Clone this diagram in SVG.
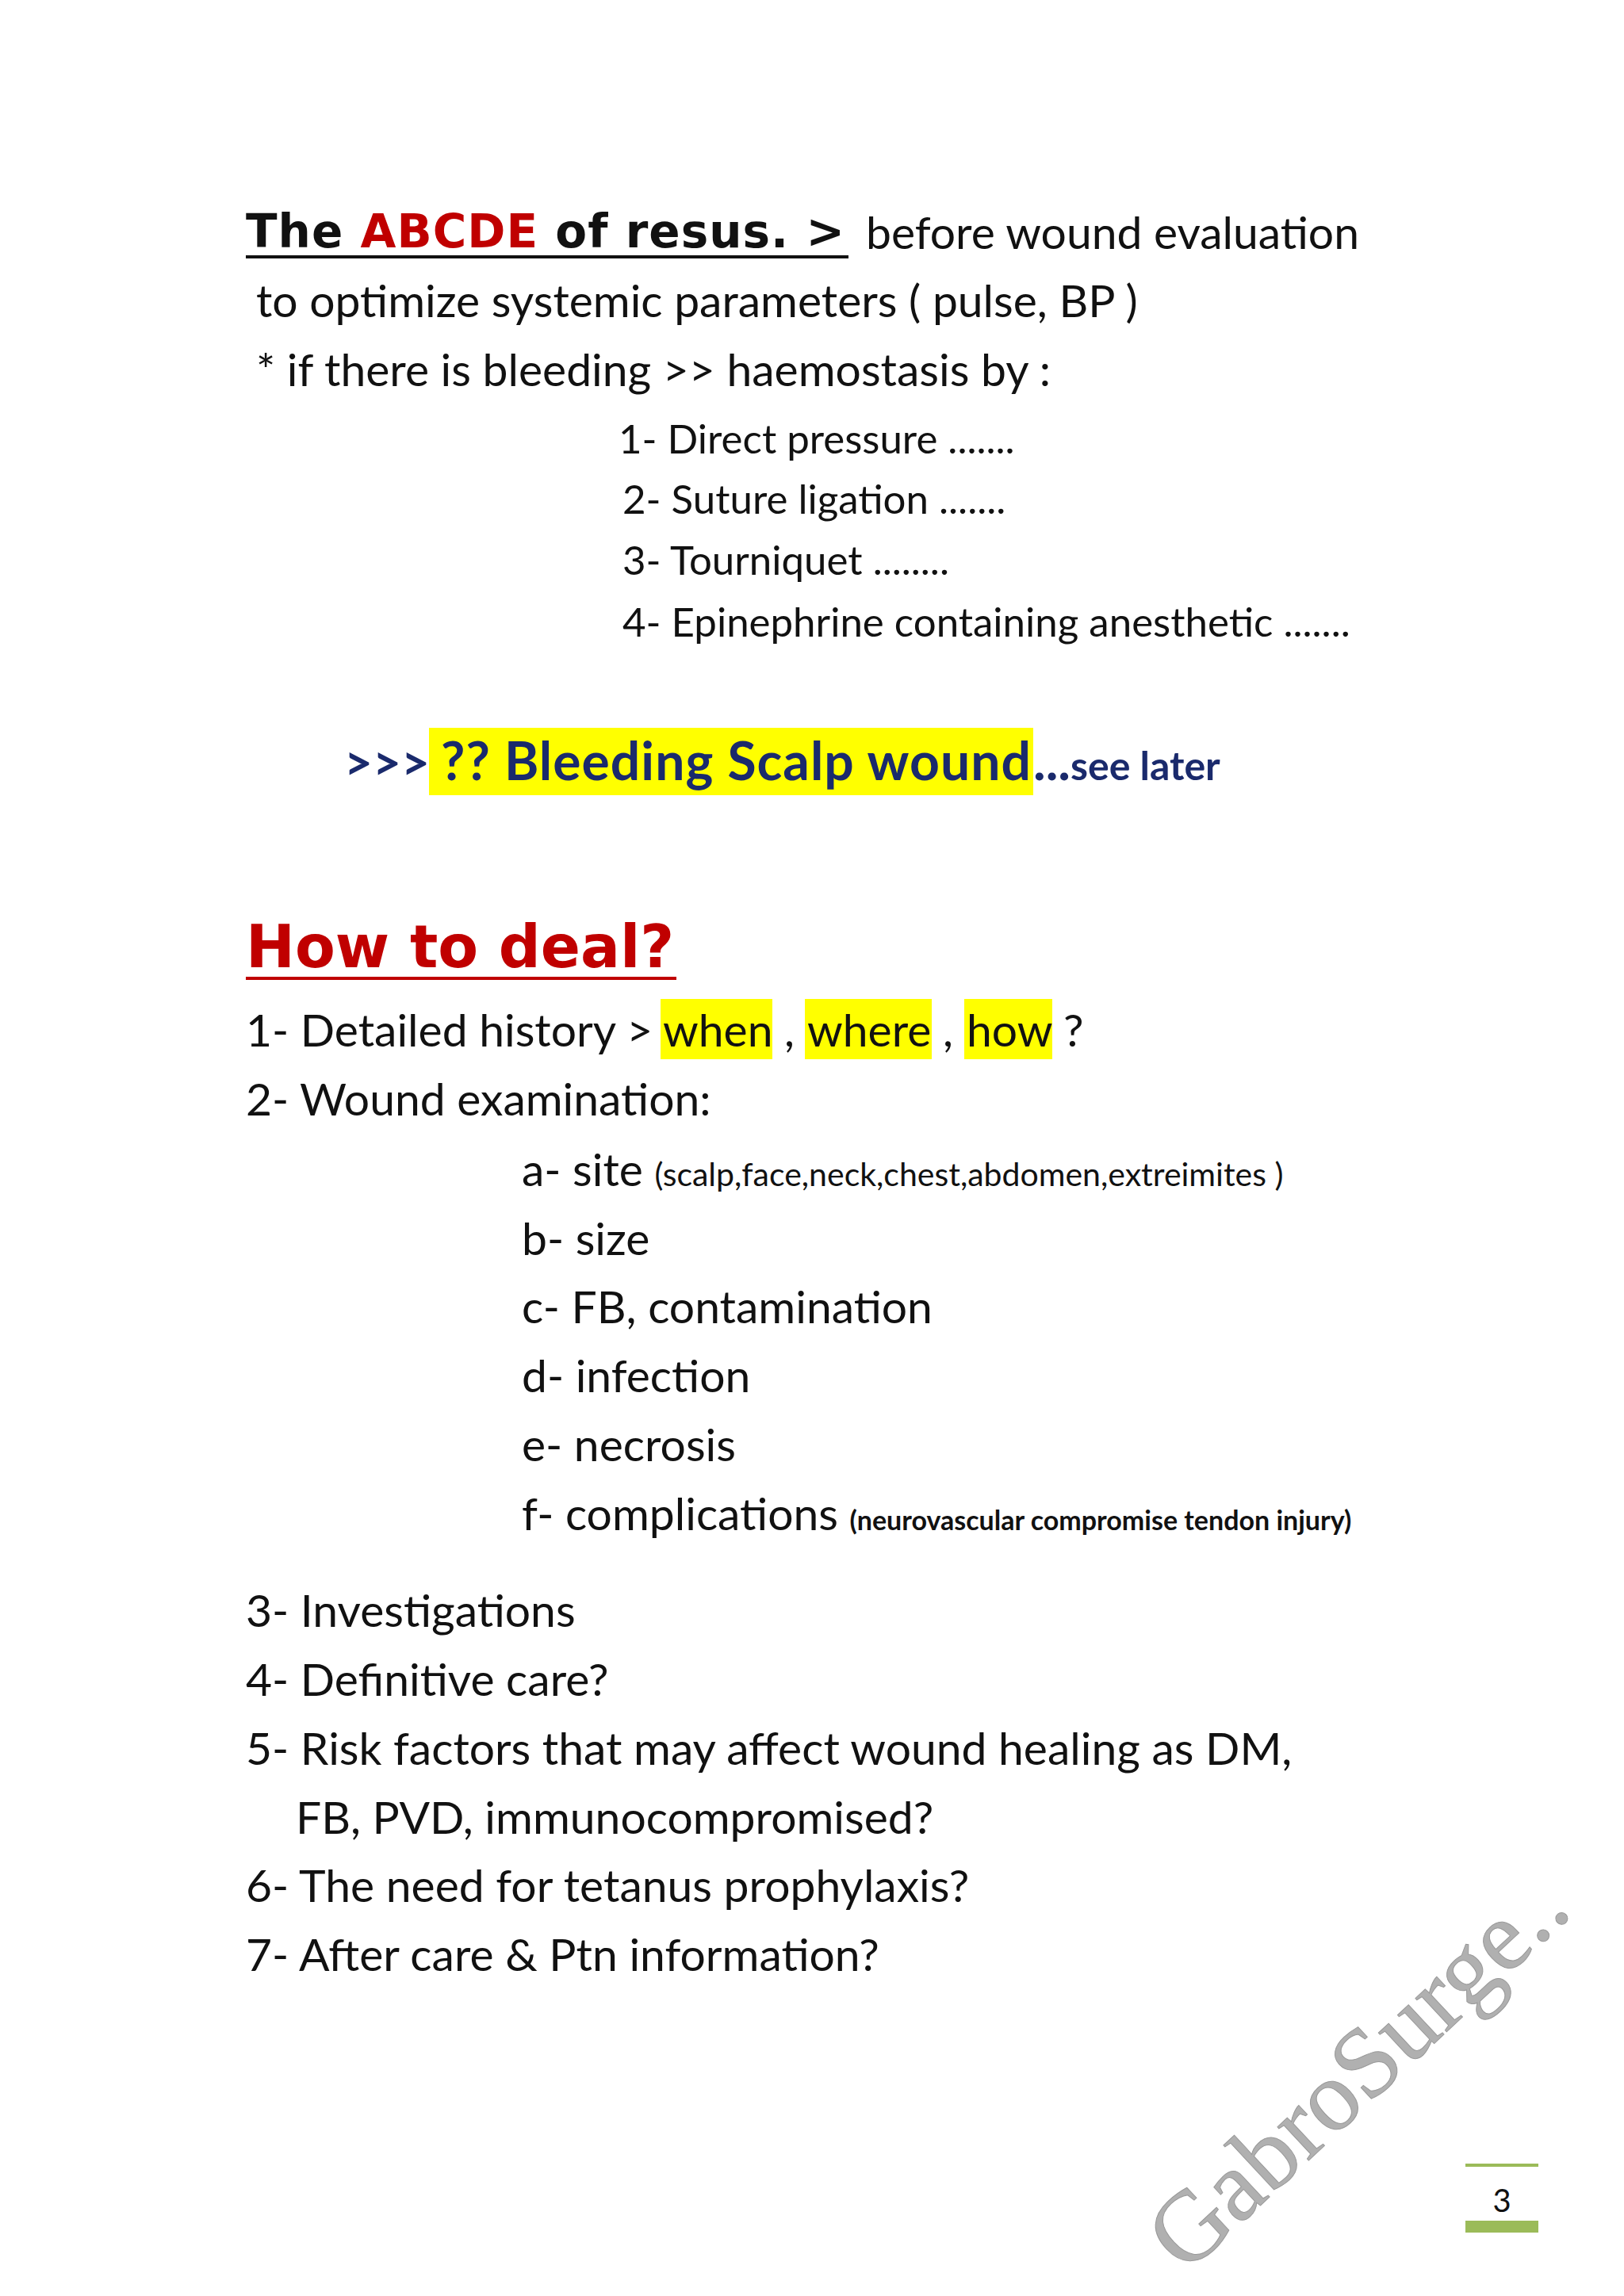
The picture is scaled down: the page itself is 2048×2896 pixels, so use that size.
<svg xmlns="http://www.w3.org/2000/svg" width="2048" height="2896" viewBox="0 0 2048 2896">
<style>
.b{font-family:Lato,"Open Sans",sans-serif;font-size:57px;fill:#111}
.s{font-family:Lato,"Open Sans",sans-serif;font-size:51px;fill:#111}
.hl{fill:#ffff00}
</style>
<rect width="2048" height="2896" fill="#fff"/>
<g id="title">
<text x="310" y="312" font-family="'DejaVu Sans',sans-serif" font-weight="900" font-size="58" fill="#111" textLength="755">The <tspan fill="#c00000">ABCDE</tspan> of resus. &gt;</text>
<line x1="310" y1="324" x2="1070" y2="324" stroke="#111" stroke-width="4"/>
<text class="b" x="1092" y="314">before wound evaluation</text>
</g>
<g id="intro">
<text class="b" x="323" y="400">to optimize systemic parameters ( pulse, BP )</text>
<text class="b" x="323" y="487">* if there is bleeding &gt;&gt; haemostasis by :</text>
<text class="s" x="780" y="572">1- Direct pressure .......</text>
<text class="s" x="785" y="648">2- Suture ligation .......</text>
<text class="s" x="785" y="725">3- Tourniquet ........</text>
<text class="s" x="785" y="803">4- Epinephrine containing anesthetic .......</text>
</g>
<g id="scalp">
<rect class="hl" x="541" y="918" width="762" height="85"/>
<text x="434" y="984" font-family="Lato,sans-serif" font-weight="bold" font-size="62" fill="#1a2a6c">&gt;&gt;&gt;</text>
<text x="556" y="984" font-family="Lato,sans-serif" font-weight="bold" font-size="66" fill="#1a2a6c" textLength="744">??  Bleeding Scalp wound</text>
<text x="1303" y="984" font-family="Lato,sans-serif" font-weight="bold" font-size="66" fill="#1a2a6c">...<tspan font-size="50">see later</tspan></text>
</g>
<g id="how">
<text x="310" y="1220" font-family="'DejaVu Sans',sans-serif" font-weight="900" font-size="74" fill="#c00000">How to deal?</text>
<line x1="310" y1="1234" x2="853" y2="1234" stroke="#c00000" stroke-width="4"/>
<rect class="hl" x="833" y="1260" width="141" height="76"/>
<rect class="hl" x="1015" y="1260" width="160" height="76"/>
<rect class="hl" x="1216" y="1260" width="111" height="76"/>
<text class="b" x="310" y="1320">1- Detailed history &gt;<tspan x="836">when</tspan> , <tspan x="1018">where</tspan> , <tspan x="1219">how</tspan> ?</text>
<text class="b" x="310" y="1407">2- Wound examination:</text>
<text class="b" x="658" y="1496">a- site <tspan font-size="41">(scalp,face,neck,chest,abdomen,extreimites )</tspan></text>
<text class="b" x="658" y="1583">b- size</text>
<text class="b" x="658" y="1669">c- FB, contamination</text>
<text class="b" x="658" y="1756">d- infection</text>
<text class="b" x="658" y="1843">e- necrosis</text>
<text class="b" x="658" y="1930">f- complications <tspan font-size="34" font-weight="bold">(neurovascular compromise tendon injury)</tspan></text>
<text class="b" x="310" y="2052">3- Investigations</text>
<text class="b" x="310" y="2139">4- Definitive care?</text>
<text class="b" x="310" y="2226">5- Risk factors that may affect wound healing as DM,</text>
<text class="b" x="373" y="2313">FB, PVD, immunocompromised?</text>
<text class="b" x="310" y="2399">6- The need for tetanus prophylaxis?</text>
<text class="b" x="310" y="2486">7- After care &amp; Ptn information?</text>
</g>
<g id="footer">
<text transform="translate(1495,2870) rotate(-43)" font-family="'Liberation Serif',serif" font-size="126" fill="#b0b0b0" stroke="#999" stroke-width="1">GabroSurge..</text>
<line x1="1848" y1="2731" x2="1940" y2="2731" stroke="#9bbb59" stroke-width="4"/>
<rect x="1848" y="2801" width="92" height="15" fill="#9bbb59"/>
<text x="1894" y="2790" text-anchor="middle" font-family="Lato,sans-serif" font-size="40" fill="#111">3</text>
</g>
</svg>
